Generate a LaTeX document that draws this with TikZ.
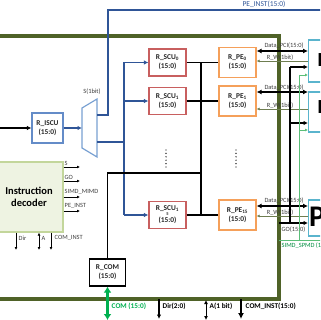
\documentclass[tikz,border=0pt]{standalone}
\usepackage{fontspec}
\setmainfont{Carlito}
\usetikzlibrary{arrows.meta,calc}
\definecolor{chipgreen}{RGB}{79,98,40}
\definecolor{blueln}{RGB}{47,85,151}
\definecolor{iscublue}{RGB}{100,140,200}
\definecolor{scured}{RGB}{200,95,95}
\definecolor{peorange}{RGB}{245,160,90}
\definecolor{pecyan}{RGB}{90,180,205}
\definecolor{decfill}{RGB}{238,243,226}
\definecolor{decline}{RGB}{195,214,155}
\definecolor{comgreen}{RGB}{0,176,80}
\definecolor{simdgreen}{RGB}{90,190,120}
\definecolor{rwcol}{RGB}{110,125,80}
\definecolor{muxblue}{RGB}{120,160,210}
\definecolor{lbltext}{RGB}{60,60,60}
\begin{document}
\begin{tikzpicture}[x=1pt,y=-1pt,
  lbl/.style={font=\fontsize{6.4}{6.4}\selectfont, text=lbltext, inner sep=0.5pt},
  botlbl/.style={font=\fontsize{7.3}{7.3}\selectfont\bfseries, text=black, inner sep=0.5pt, anchor=west},
  regbox/.style={draw, line width=1.2pt, fill=white, inner sep=0pt, align=center,
     font=\fontsize{7.4}{9}\selectfont\bfseries, text=black!85},
  scubox/.style={regbox, draw=scured, minimum width=37pt, minimum height=27pt},
  rpebox/.style={regbox, draw=peorange, minimum width=37pt, minimum height=30pt},
  iscubox/.style={regbox, draw=iscublue, minimum width=31pt, minimum height=30pt},
  combox/.style={regbox, draw=black, minimum width=36pt, minimum height=27pt},
  decbox/.style={draw=decline, fill=decfill, line width=1.2pt, minimum width=68pt, minimum height=70pt,
     align=center, inner sep=0pt, font=\fontsize{10.5}{12.5}\selectfont\bfseries},
  bigpe/.style={draw=pecyan, line width=1.2pt, fill=white, minimum width=40pt, inner sep=0pt, anchor=west},
  pelbl/.style={font=\fontsize{20}{20}\selectfont\bfseries, inner sep=0pt, anchor=west},
  bl/.style={draw=blueln, line width=1.8pt},
  blhead/.style={bl, -{Latex[length=4.5pt,width=4.5pt]}},
  blk/.style={draw=black, line width=1.6pt},
  blkhead/.style={blk, -{Latex[length=4.5pt,width=4.5pt]}},
  dat/.style={draw=black, line width=2pt, {Latex[length=5pt,width=5pt]}-{Latex[length=5pt,width=5pt]}},
  rw/.style={draw=rwcol, line width=0.8pt, -{Latex[length=3pt,width=3pt]}},
  sg/.style={draw=simdgreen, line width=0.8pt},
  sghead/.style={sg, -{Latex[length=3pt,width=3pt]}},
  sm/.style={draw=black, line width=0.8pt, -{Latex[length=3pt,width=3pt]}},
  smboth/.style={draw=black, line width=0.8pt, {Latex[length=3pt,width=3pt]}-{Latex[length=3pt,width=3pt]}},
  chip/.style={draw=chipgreen, line width=4pt},
  mux/.style={draw=muxblue, line width=1.2pt, fill=white}
]
\useasboundingbox (0,0) rectangle (320,320);
\clip (0,0) rectangle (320,320);

% chip border
\draw[chip] (-10,36) rectangle (279,299);

% top bus label
\node[font=\fontsize{7.5}{7.5}\selectfont, text=blueln, inner sep=0pt] (peinstlbl) at (264,4) {PE\_INST(15:0)};

% registers and blocks
\node[iscubox] (iscu) at (47.5,128) {R\_ISCU\\(15:0)};
\node[decbox] (dec) at (29,197) {Instruction\\decoder};
\node[combox] (rcom) at (107.5,272.5) {R\_COM\\(15:0)};
\node[scubox] (scu0) at (167.5,62.5) {R\_SCU\textsubscript{0}\\(15:0)};
\node[scubox] (scu1) at (167.5,101) {R\_SCU\textsubscript{1}\\(15:0)};
\node[scubox] (scu15) at (167.5,215) {R\_SCU\textsubscript{1}\\[-4pt]{\fontsize{4.5}{4.5}\selectfont 5}\\[-2pt](15:0)};
\node[rpebox] (rpe0) at (237.5,62.5) {R\_PE\textsubscript{0}\\(15:0)};
\node[rpebox] (rpe1) at (237.5,101) {R\_PE\textsubscript{1}\\(15:0)};
\node[rpebox] (rpe15) at (237.5,215) {R\_PE\textsubscript{15}\\(15:0)};
\node[bigpe, minimum height=42pt] (pe0) at (308,61) {};
\node[bigpe, minimum height=40pt] (pe1) at (308,112) {};
\node[bigpe, minimum height=36pt] (pe15) at (308,218) {};
\node[pelbl] (pe0t) at (317.5,60) {PE};
\node[pelbl] (pe1t) at (317.5,107) {PE};
\node[pelbl, font=\fontsize{30}{30}\selectfont\bfseries] (pe15t) at (309,217) {PE};

% mux
\coordinate (mA) at (82,108);
\coordinate (mB) at (97,99);
\coordinate (mC) at (97,157);
\coordinate (mD) at (82,148);
\draw[mux] (mA) -- (mB) -- (mC) -- (mD) -- cycle;
\coordinate (muxin) at (82,128);
\coordinate (muxo1) at (97,115);
\coordinate (muxo2) at (97,142);
\node[lbl] (slbl) at (92,92) {S(1bit)};

% input and blue paths
\coordinate (inL) at (-5,128);
\draw[blkhead] (inL) -- (iscu);
\draw[blhead] (iscu) -- (muxin);
\coordinate (peTurn) at (108,10);
\coordinate (peEnd) at (330,10);
\draw[bl] (muxo1) -| (peTurn) -- (peEnd);
\coordinate (dist) at (124,0);
\draw[bl] (muxo2) -- (dist |- muxo2);
\draw[bl] (dist |- scu0) -- (dist |- scu15);
\foreach \n in {scu0,scu1,scu15} \draw[blhead] (dist |- \n) -- (\n);

% black bus
\draw[blk] (scu0) -- (rpe0);
\draw[blk] (scu1) -- (rpe1);
\draw[blk] (scu15) -- (rpe15);
\coordinate (bus) at (201,0);
\draw[blk] (bus |- scu0) -- (bus |- scu15);
\coordinate (comj) at (201,173);
\draw[blk] (comj) -| (rcom.north);

% dots
\foreach \yy in {150,153.4,...,168} { \fill (166,\yy) circle (0.7); \fill (236,\yy) circle (0.7); }

% data / R_W
\draw[dat] (rpe0.east |- 0,51) -- (pe0.west |- 0,51);
\draw[dat] (rpe1.east |- 0,92) -- (pe1.west |- 0,92);
\draw[dat] (rpe15.east |- 0,206) -- (pe15.west |- 0,206);
\node[lbl] (dl0) at (284,46) {Data\_PCI(15:0)};
\node[lbl] (dl1) at (284,88) {Data\_PCI(15:0)};
\node[lbl] (dl15) at (284,201) {Data\_PCI(15:0)};
\draw[rw] (pe0.west |- 0,61) -- (rpe0.east |- 0,61);
\draw[rw] (pe1.west |- 0,109) -- (rpe1.east |- 0,109);
\draw[rw] (pe15.west |- 0,216) -- (rpe15.east |- 0,216);
\node[lbl] (rw0) at (280,58) {R\_W(1bit)};
\node[lbl] (rw1) at (280,106) {R\_W(1bit)};
\node[lbl] (rw15) at (280,213) {R\_W(1bit)};

% GO
\coordinate (gov) at (290,0);
\draw[blk] (gov |- 0,67) -- (gov |- 0,223);
\draw[blkhead] (gov |- 0,67) -- (pe0.west |- 0,67);
\draw[blkhead] (gov |- 0,123) -- (pe1.west |- 0,123);
\coordinate (goin) at (279,223);
\draw[blkhead] (goin) -- (pe15.west |- goin);
\node[lbl, anchor=west] (golbl) at (281,230) {GO(15:0)};

% SIMD
\coordinate (sv) at (299,0);
\draw[sg] (sv |- 0,75) -- (sv |- 0,240);
\draw[sghead] (sv |- 0,75) -- (pe0.west |- 0,75);
\draw[sghead] (sv |- 0,130) -- (pe1.west |- 0,130);
\coordinate (sin) at (279,240);
\coordinate (sout) at (325,240);
\draw[sg] (sin) -- (sout);
\node[lbl, text=comgreen!80!black, anchor=west] (simdlbl) at (281,246) {SIMD\_SPMD (1 bit)};

% decoder outputs
\coordinate (oS) at (80,167);
\coordinate (oGO) at (80,181);
\coordinate (oSM) at (80,197);
\coordinate (oPI) at (80,211);
\draw[sm] (dec.east |- oS) -- (oS);
\draw[sm] (dec.east |- oGO) -- (oGO);
\draw[sm] (dec.east |- oSM) -- (oSM);
\draw[sm] (dec.east |- oPI) -- (oPI);
\node[lbl, anchor=west] (lS) at (64,163) {S};
\node[lbl, anchor=west] (lGO) at (64,177) {GO};
\node[lbl, anchor=west] (lSM) at (64,192) {SIMD\_MIMD};
\node[lbl, anchor=west] (lPI) at (64,206) {PE\_INST};
\coordinate (bDir) at (16,250);
\coordinate (bA) at (39,250);
\coordinate (bCI) at (51,250);
\draw[sm] (dec.south -| bDir) -- (bDir);
\draw[smboth] (dec.south -| bA) -- (bA);
\draw[sm] (dec.south -| bCI) -- (bCI);
\node[lbl, anchor=west] (lDir) at (18,238) {Dir};
\node[lbl, anchor=west] (lA) at (41,238) {A};
\node[lbl, anchor=west] (lCI) at (54,238) {COM\_INST};

% bottom outputs
\coordinate (comOut) at (107.5,320);
\draw[draw=comgreen, line width=3.5pt, {Latex[length=6pt,width=8pt]}-{Latex[length=6pt,width=8pt]}] (rcom.south) -- (comOut);
\node[botlbl, text=comgreen] (lcom) at (111,306) {COM (15:0)};
\coordinate (dirT) at (159,299);
\coordinate (dirB) at (159,319);
\draw[blkhead] (dirT) -- (dirB);
\node[botlbl] (ldir) at (162,306) {Dir(2:0)};
\coordinate (aT) at (206,300);
\coordinate (aB) at (206,320);
\draw[draw=black, line width=1pt, {Latex[length=4pt,width=4pt]}-{Latex[length=4pt,width=4pt]}] (aT) -- (aB);
\node[botlbl] (la) at (209,306) {A(1 bit)};
\coordinate (ciT) at (241,299);
\coordinate (ciB) at (241,319);
\draw[draw=black, line width=2pt, -{Latex[length=6pt,width=6pt]}] (ciT) -- (ciB);
\node[botlbl] (lci) at (245,306) {COM\_INST(15:0)};
\end{tikzpicture}
\end{document}
